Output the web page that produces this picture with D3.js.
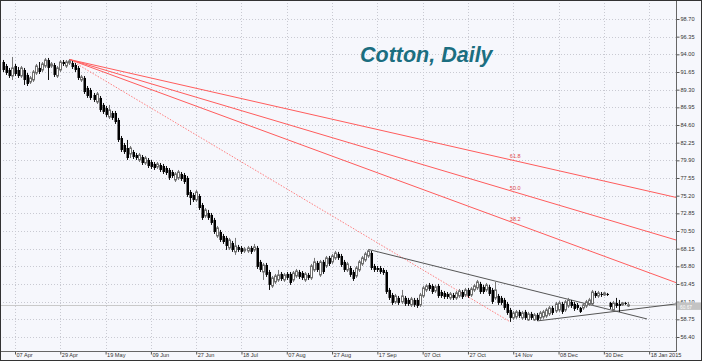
<!DOCTYPE html>
<html><head><meta charset="utf-8">
<script src="https://cdn.jsdelivr.net/npm/d3@7"></script>
<style>body{margin:0;background:#fff}svg{display:block}text{font-family:Arial,"Liberation Sans",sans-serif}</style>
</head><body><svg id="c" width="702" height="361"></svg>
<script>
const opens=[92.98,92.45,91.92,91.12,92.45,91.92,91.12,91.92,91.26,90.32,
90.59,91.52,92.19,91.92,92.45,93.25,92.45,92.58,91.12,91.92,
92.98,92.45,92.85,92.85,92.58,92.19,90.59,90.86,89.53,89.26,
88.59,87.66,88.20,87.27,86.86,85.67,86.20,86.20,85.27,82.87,
81.94,81.54,80.75,81.01,80.61,79.95,80.35,79.55,79.95,79.68,
79.42,79.02,79.28,79.15,78.88,78.62,78.35,77.29,77.56,78.09,
77.95,77.56,75.69,75.29,74.63,75.16,73.96,72.50,72.90,72.64,
71.97,69.84,70.37,69.84,69.58,68.25,68.91,67.72,68.38,68.25,
67.85,67.85,68.25,67.98,68.25,66.39,65.05,65.98,65.05,63.19,
63.73,63.99,64.79,63.99,64.79,64.79,63.99,64.52,65.05,64.92,
63.99,64.66,64.26,65.32,66.25,64.66,66.39,65.85,66.92,66.39,
66.92,67.45,67.18,66.39,65.32,65.58,65.05,64.52,65.32,66.12,
66.65,67.18,67.58,65.85,65.58,65.58,65.32,65.05,62.66,61.99,
61.07,61.60,61.07,61.60,61.33,60.67,61.33,61.33,60.67,61.86,
62.66,63.33,63.19,62.53,63.19,62.39,62.26,62.13,61.60,61.99,
61.60,61.86,62.39,61.99,62.66,61.99,62.66,62.93,63.46,63.06,
62.66,63.06,62.66,61.60,61.86,61.60,61.33,60.80,60.00,58.94,
59.07,59.74,58.94,59.74,58.67,59.47,58.67,59.34,58.94,59.07,
59.20,59.47,60.27,59.87,60.00,60.80,60.00,60.53,61.07,60.80,
60.67,60.27,60.27,60.53,60.80,60.80,62.26,61.86,62.13,61.99,
62.13,60.93,60.00,60.93,60.80,60.67,60.93,60.53];
const highs=[93.25,92.72,92.19,93.65,92.72,92.32,92.45,92.19,91.52,91.12,
91.92,92.72,92.98,92.98,93.52,93.52,92.98,92.85,92.45,93.25,
93.25,93.25,93.32,93.12,92.85,92.45,91.26,91.12,89.79,89.53,
88.86,88.99,88.46,87.53,87.13,87.27,86.47,86.47,85.54,83.14,
82.21,82.61,81.81,81.28,80.88,80.88,80.61,80.48,80.21,79.95,
79.68,79.68,79.55,79.42,79.15,78.88,78.62,78.35,78.62,78.35,
78.22,77.82,75.96,75.56,75.96,75.43,74.23,73.56,73.30,72.90,
72.24,71.17,70.64,70.11,69.84,69.58,69.18,69.58,68.65,68.51,
68.38,68.51,68.51,68.78,68.51,66.65,66.25,66.25,65.32,64.52,
64.79,65.32,65.05,64.92,65.05,65.05,65.18,65.45,65.32,65.18,
65.05,64.92,66.12,66.92,66.52,66.65,66.65,67.18,67.18,67.45,
67.85,67.72,67.45,66.65,66.39,65.85,65.32,65.85,66.65,67.18,
67.72,68.05,67.85,66.12,65.85,65.85,65.58,65.32,62.93,62.26,
62.13,61.86,62.66,61.86,61.60,61.73,61.60,61.60,62.26,63.19,
63.46,63.59,63.46,63.33,63.46,62.66,62.53,62.39,62.39,62.26,
62.53,62.79,62.66,62.93,62.93,63.06,63.46,63.99,63.73,63.33,
63.59,63.33,62.93,63.73,62.13,61.86,61.60,61.07,60.27,59.87,
60.00,60.00,59.87,60.00,59.74,59.74,59.60,59.60,59.87,60.00,
60.27,60.53,60.53,61.07,61.20,61.07,61.33,61.60,61.33,61.07,
60.93,60.40,60.93,61.33,61.60,62.66,62.53,62.53,62.39,62.39,
62.26,61.07,61.20,61.60,61.33,61.07,61.07,61.07];
const lows=[91.65,91.26,90.86,90.59,91.12,90.86,90.86,89.93,89.79,90.06,
90.32,91.26,91.39,91.65,92.19,90.59,92.19,90.99,90.86,91.65,
92.45,92.19,92.58,92.05,91.65,90.59,90.32,88.73,88.20,87.93,
87.66,87.40,86.34,86.07,85.67,85.40,85.27,84.74,82.34,81.01,
80.75,79.95,80.21,80.08,79.95,79.68,79.28,79.28,78.88,78.75,
78.62,78.75,78.35,78.09,77.95,77.29,77.56,77.02,77.29,77.16,
76.76,75.03,73.96,74.36,74.36,73.30,71.97,72.24,71.97,71.31,
70.11,69.58,69.04,68.78,67.98,67.98,67.72,67.32,67.72,67.45,
67.58,67.58,67.45,67.72,65.45,65.05,63.99,64.39,62.66,62.93,
63.46,63.73,63.86,63.73,63.99,63.33,63.73,64.26,64.12,63.99,
63.73,63.99,63.99,65.05,65.05,64.39,64.79,65.58,65.85,66.12,
66.65,66.65,65.72,65.05,65.05,64.39,63.86,64.26,65.05,65.85,
66.39,66.92,65.32,65.05,65.05,64.79,64.66,62.13,61.33,60.67,
60.80,60.67,60.80,60.53,60.53,60.40,60.40,60.27,60.40,61.60,
62.39,62.53,62.13,62.26,61.60,61.60,61.46,61.46,61.33,61.33,
61.33,61.60,61.46,61.73,61.60,61.73,62.39,62.66,62.13,62.13,
62.39,61.86,60.80,61.33,60.67,60.67,60.00,59.34,58.41,58.67,
58.81,58.94,58.67,58.67,58.54,58.67,58.54,58.54,58.67,58.81,
58.94,59.20,59.34,59.60,59.74,59.47,59.74,60.27,60.27,59.87,
60.00,59.60,60.00,60.27,60.53,60.53,61.60,61.60,61.73,61.86,
61.86,60.13,59.87,60.27,59.74,60.53,60.67,60.40];
const closes=[91.92,91.52,91.12,92.19,91.39,91.12,92.19,90.59,90.06,90.86,
91.65,92.45,91.65,92.72,93.25,92.19,92.72,91.26,92.19,92.98,
92.72,92.98,93.12,92.32,91.92,90.86,90.99,88.99,88.46,88.20,
87.93,88.73,86.60,86.34,85.94,86.60,85.54,85.00,82.61,81.28,
81.01,80.21,81.54,80.35,80.21,80.61,79.55,80.21,79.15,79.02,
78.88,79.42,78.62,78.35,78.22,77.56,77.82,78.09,78.35,77.42,
77.02,75.29,74.89,74.63,75.69,73.56,72.24,73.30,72.24,71.57,
70.37,70.91,69.31,69.04,68.51,69.31,67.98,68.51,67.98,67.72,
68.11,68.25,67.72,68.38,65.72,65.32,65.98,64.66,63.33,64.26,
64.52,64.66,64.12,64.66,64.26,63.59,64.92,65.18,64.39,64.26,
64.79,64.26,65.85,66.39,65.32,66.39,65.05,66.92,66.12,67.18,
67.58,66.92,65.98,65.32,66.12,64.66,64.12,65.58,66.39,66.92,
67.45,67.85,65.58,65.32,65.32,65.05,64.92,62.39,61.60,60.93,
61.86,60.93,61.86,60.80,60.80,61.46,60.67,60.53,61.99,62.93,
63.19,62.79,62.39,63.06,61.86,61.86,61.73,61.73,62.13,61.60,
62.26,62.53,61.73,62.66,61.86,62.79,63.19,63.73,62.39,62.39,
63.33,62.13,61.07,62.66,60.93,60.93,60.27,59.60,58.94,59.60,
59.74,59.20,59.60,58.94,59.47,58.94,59.34,58.67,59.60,59.74,
60.00,60.27,59.60,60.80,60.93,59.74,61.07,61.33,60.53,60.13,
60.27,59.74,60.67,61.07,61.33,62.39,61.86,62.26,61.99,62.26,
61.99,60.40,60.93,60.53,60.53,60.93,60.80,60.67];

const xTickIndex=[4,19,34,49,64,79,94,109,124,139,154,169,184,199,214];
const xTickLabels=["07 Apr","29 Apr","19 May","09 Jun","27 Jun","18 Jul","07 Aug","27 Aug","17 Sep","07 Oct","27 Oct","14 Nov","08 Dec","30 Dec","18 Jan 2015"];
const yTicks=[98.70,96.35,94.00,91.65,89.30,86.95,84.60,82.25,79.90,77.55,75.20,72.85,70.50,68.15,65.80,63.45,61.10,58.75,56.40];

const fanStart=[22,93.32], fanEnd=[168,58.41];
const fanLevels=[38.2,50.0,61.8];
const trendLines=[[121,68.05,213.3,58.80],[177,58.54,222.9,60.80]];
const title="Cotton, Daily";

const svg=d3.select('#c');
const PR=676, PB=351;
svg.append('rect').attr('width',702).attr('height',361).attr('fill','#f6f7fc');
const x=d3.scaleLinear().domain([-0.97,222.9]).range([0,PR]);
const y=d3.scaleLinear().domain([98.70,56.40]).range([19,337]);

// grid
const grid=svg.append('g').attr('stroke','#c9cad2').attr('stroke-dasharray','1,2').attr('stroke-width',1);
grid.selectAll('.vg').data(xTickIndex).join('line').attr('x1',d=>Math.round(x(d))+0.5).attr('x2',d=>Math.round(x(d))+0.5).attr('y1',0).attr('y2',PB);
grid.selectAll('.hg').data(yTicks).join('line').attr('y1',d=>Math.round(y(d))+0.5).attr('y2',d=>Math.round(y(d))+0.5).attr('x1',0).attr('x2',PR);

// title
svg.append('text').attr('x',360).attr('y',62).attr('font-size',21.5).attr('font-weight','bold').attr('font-style','italic').attr('fill','#1b6e80').text(title);

// current price line
const last=closes[closes.length-1];
svg.append('line').attr('x1',0).attr('x2',PR).attr('y1',Math.round(y(last))+0.5).attr('y2',Math.round(y(last))+0.5).attr('stroke','#cacaca');

// fan
const fg=svg.append('g');
const xs=x(fanStart[0]), ys=y(fanStart[1]), xe=x(fanEnd[0]);
fg.append('line').attr('x1',xs).attr('y1',ys).attr('x2',xe).attr('y2',y(fanEnd[1])).attr('stroke','#ff7070').attr('stroke-width',0.9).attr('stroke-dasharray','1.5,1.5');
fanLevels.forEach(r=>{
  const pe=fanEnd[1]+r/100*(fanStart[1]-fanEnd[1]);
  const ye=y(pe);
  const slope=(ye-ys)/(xe-xs);
  fg.append('line').attr('x1',xs).attr('y1',ys).attr('x2',PR).attr('y2',ys+slope*(PR-xs)).attr('stroke','#ff5c5c').attr('stroke-width',1);
  fg.append('text').attr('x',xe+5).attr('y',ye+slope*5-2.5).attr('text-anchor','middle').attr('font-size',5.5).attr('fill','#e04848').text(r.toFixed(1));
});

// trend lines
svg.append('g').selectAll('line').data(trendLines).join('line')
 .attr('x1',d=>x(d[0])).attr('y1',d=>y(d[1])).attr('x2',d=>x(d[2])).attr('y2',d=>y(d[3]))
 .attr('stroke','#555').attr('stroke-width',1);

// candles
const idx=d3.range(closes.length);
const isBear=i=>closes[i]<opens[i];
const cg=svg.append('g');
cg.selectAll('.w').data(idx).join('line')
 .attr('x1',i=>Math.round(x(i))+0.5).attr('x2',i=>Math.round(x(i))+0.5)
 .attr('y1',i=>y(highs[i])).attr('y2',i=>y(lows[i])).attr('stroke',i=>isBear(i)?'#111':'#777');
cg.selectAll('.bear').data(idx.filter(isBear)).join('rect')
 .attr('x',i=>Math.round(x(i))-0.5).attr('width',2.5)
 .attr('y',i=>y(opens[i])).attr('height',i=>Math.max(1,y(closes[i])-y(opens[i]))).attr('fill','#000');
cg.selectAll('.bull').data(idx.filter(i=>!isBear(i))).join('rect')
 .attr('x',i=>Math.round(x(i))-0.5).attr('width',2)
 .attr('y',i=>y(closes[i])).attr('height',i=>Math.max(0.5,y(opens[i])-y(closes[i]))).attr('fill','#fff').attr('stroke','#707070').attr('stroke-width',1);

// axes
const ya=svg.append('g').attr('transform',`translate(${PR+0.5},0)`)
 .call(d3.axisRight(y).tickValues(yTicks).tickFormat(d3.format('.2f')).tickSize(3).tickPadding(1));
ya.select('.domain').remove();
ya.selectAll('text').attr('font-size',5.6).attr('fill','#333').attr('font-family','Arial').attr('dy','0.25em');
ya.selectAll('line').attr('stroke','#555');
const xa=svg.append('g').attr('transform',`translate(0,${PB+0.5})`)
 .call(d3.axisBottom(x).tickValues(xTickIndex).tickFormat((d,i)=>xTickLabels[i]).tickSize(3).tickPadding(0));
xa.select('.domain').remove();
xa.selectAll('text').attr('font-size',5.6).attr('fill','#333').attr('font-family','Arial').attr('text-anchor','start').attr('dx',1).attr('dy','0.4em');
xa.selectAll('line').attr('stroke','#555');

// frame lines
svg.append('line').attr('x1',PR+0.5).attr('x2',PR+0.5).attr('y1',0).attr('y2',PB+0.5).attr('stroke','#666');
svg.append('line').attr('x1',0).attr('x2',PR+0.5).attr('y1',PB+0.5).attr('y2',PB+0.5).attr('stroke','#666');

// current price box
const ly=y(last);
svg.append('rect').attr('x',PR+1).attr('y',ly-2.5).attr('width',24).attr('height',7.5).attr('fill','#c3c3c3');
svg.append('text').attr('x',PR+4).attr('y',ly+4.3).attr('font-size',4.8).attr('fill','#fff').text(last.toFixed(2));

// outer border
svg.append('rect').attr('x',0.5).attr('y',0.5).attr('width',701).attr('height',360).attr('fill','none').attr('stroke','#333');
</script></body></html>
